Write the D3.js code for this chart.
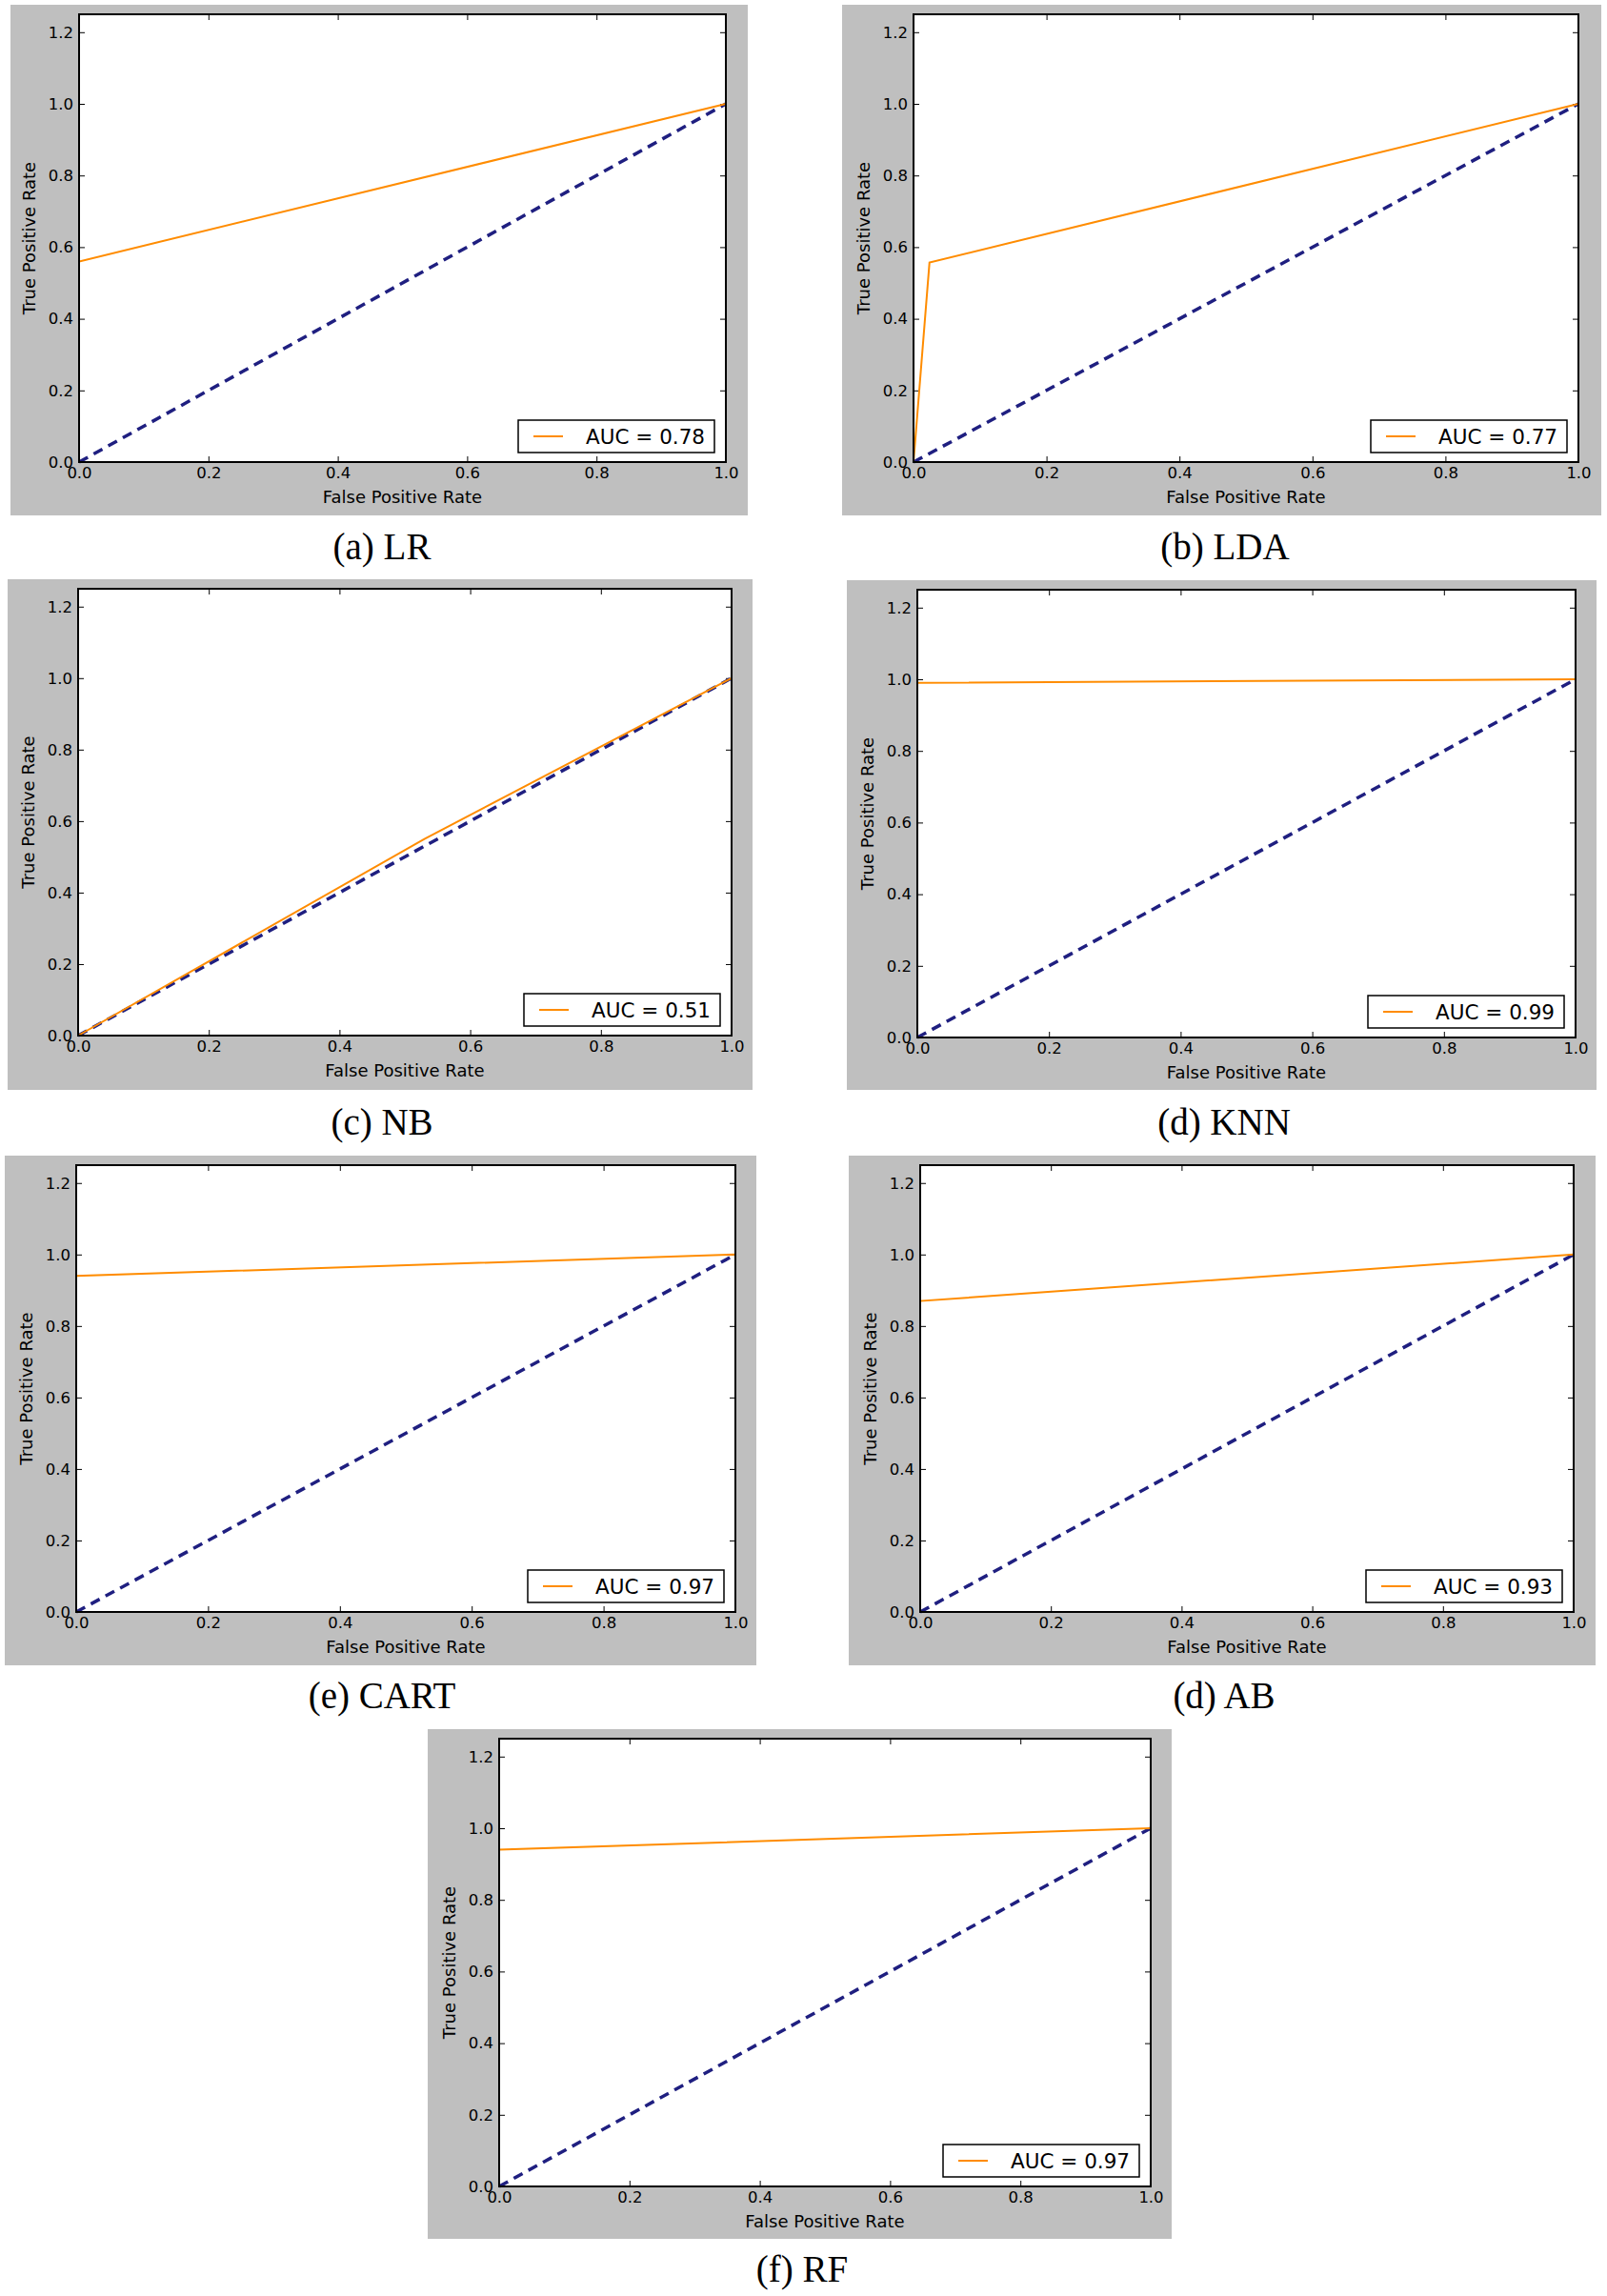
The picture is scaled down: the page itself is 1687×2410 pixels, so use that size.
<!DOCTYPE html>
<html lang="en">
<head>
    <meta charset="UTF-8">
    <title>ROC curves</title>
    <script src="https://d3js.org/d3.v7.min.js"></script>
    <style>
    body {
        margin: 0;
        background: #ffffff;
    }
    .tick text {
        font-family: "DejaVu Sans", sans-serif;
        font-size: 16.5px;
        fill: #000;
    }
    .tick line {
        stroke: #000;
        stroke-width: 1;
    }
    .axis-label {
        font-family: "DejaVu Sans", sans-serif;
        font-size: 18px;
        fill: #000;
    }
    .legend-text {
        font-family: "DejaVu Sans", sans-serif;
        font-size: 21.5px;
        fill: #000;
    }
    .caption {
        font-family: "Liberation Serif", "Times New Roman", serif;
        font-size: 39px;
        fill: #000;
    }
    </style>
</head>
<body>
    <script>
// chart data
const panelTitles = ["(a) LR", "(b) LDA", "(c) NB", "(d) KNN", "(e) CART", "(d) AB", "(f) RF"];
const aucLabels = ["AUC = 0.78", "AUC = 0.77", "AUC = 0.51", "AUC = 0.99", "AUC = 0.97", "AUC = 0.93", "AUC = 0.97"];
const fprValues = [
    [0, 0, 1],
    [0, 0.024, 1],
    [0, 0.53, 1],
    [0, 0, 1],
    [0, 0, 1],
    [0, 0, 1],
    [0, 0, 1]
];
const tprValues = [
    [0, 0.56, 1],
    [0, 0.557, 1],
    [0, 0.55, 1],
    [0, 0.99, 1],
    [0, 0.94, 1],
    [0, 0.87, 1],
    [0, 0.94, 1]
];
const chanceLine = [0, 1];
const xTicks = [0, 0.2, 0.4, 0.6, 0.8, 1.0];
const yTicks = [0, 0.2, 0.4, 0.6, 0.8, 1.0, 1.2];

// where each panel sits on the page
const layout = [
    {gx: 11,  gy: 5,    gw: 774, gh: 536, l: 83,  r: 762,  t: 15,   b: 485,  cx: 401,  cy: 587},
    {gx: 884, gy: 5,    gw: 797, gh: 536, l: 959, r: 1657, t: 15,   b: 485,  cx: 1286, cy: 587},
    {gx: 8,   gy: 608,  gw: 782, gh: 536, l: 82,  r: 768,  t: 618,  b: 1087, cx: 401,  cy: 1191},
    {gx: 889, gy: 609,  gw: 787, gh: 535, l: 963, r: 1654, t: 619,  b: 1089, cx: 1285, cy: 1191},
    {gx: 5,   gy: 1213, gw: 789, gh: 535, l: 80,  r: 772,  t: 1223, b: 1692, cx: 401,  cy: 1793},
    {gx: 891, gy: 1213, gw: 784, gh: 535, l: 966, r: 1652, t: 1223, b: 1692, cx: 1285, cy: 1793},
    {gx: 449, gy: 1815, gw: 781, gh: 535, l: 524, r: 1208, t: 1825, b: 2295, cx: 842,  cy: 2395}
];

const width = 1687;
const height = 2410;

const svg = d3.select("body")
    .append("svg")
    .attr("width", width)
    .attr("height", height);

layout.forEach((p, i) => {
    const g = svg.append("g");

    g.append("rect")
        .attr("x", p.gx)
        .attr("y", p.gy)
        .attr("width", p.gw)
        .attr("height", p.gh)
        .attr("fill", "#bfbfbf");

    g.append("rect")
        .attr("x", p.l)
        .attr("y", p.t)
        .attr("width", p.r - p.l)
        .attr("height", p.b - p.t)
        .attr("fill", "#fff");

    const x = d3.scaleLinear().domain([0, 1]).range([p.l, p.r]);
    const y = d3.scaleLinear().domain([0, 1.25]).range([p.b, p.t]);

    // ticks point inwards on all four sides
    const fmt = d3.format(".1f");
    const bottomAxis = g.append("g")
        .attr("transform", `translate(0,${p.b})`)
        .call(d3.axisBottom(x).tickValues(xTicks).tickFormat(fmt).tickSize(-6).tickPadding(5));
    const topAxis = g.append("g")
        .attr("transform", `translate(0,${p.t})`)
        .call(d3.axisTop(x).tickValues(xTicks).tickFormat("").tickSize(-6));
    const leftAxis = g.append("g")
        .attr("transform", `translate(${p.l},0)`)
        .call(d3.axisLeft(y).tickValues(yTicks).tickFormat(fmt).tickSize(-6).tickPadding(6));
    const rightAxis = g.append("g")
        .attr("transform", `translate(${p.r},0)`)
        .call(d3.axisRight(y).tickValues(yTicks).tickFormat("").tickSize(-6));
    [bottomAxis, topAxis, leftAxis, rightAxis].forEach(a => a.select(".domain").remove());

    const line = d3.line()
        .x(d => x(d[0]))
        .y(d => y(d[1]));

    const roc = d3.zip(fprValues[i], tprValues[i]);
    const chance = d3.zip(chanceLine, chanceLine);

    g.append("path")
        .datum(chance)
        .attr("d", line)
        .attr("fill", "none")
        .attr("stroke", "#1f1f80")
        .attr("stroke-width", 3.5)
        .attr("stroke-dasharray", "10.5,7");

    g.append("path")
        .datum(roc)
        .attr("d", line)
        .attr("fill", "none")
        .attr("stroke", "#ff8c00")
        .attr("stroke-width", 2);

    // frame
    g.append("rect")
        .attr("x", p.l)
        .attr("y", p.t)
        .attr("width", p.r - p.l)
        .attr("height", p.b - p.t)
        .attr("fill", "none")
        .attr("stroke", "#000")
        .attr("stroke-width", 2);

    // legend
    const lw = 206, lh = 34;
    const lx = p.r - 12 - lw;
    const ly = p.b - 10 - lh;
    g.append("rect")
        .attr("x", lx)
        .attr("y", ly)
        .attr("width", lw)
        .attr("height", lh)
        .attr("fill", "#fff")
        .attr("stroke", "#000")
        .attr("stroke-width", 1.5);
    g.append("line")
        .attr("x1", lx + 16)
        .attr("x2", lx + 47)
        .attr("y1", ly + lh / 2)
        .attr("y2", ly + lh / 2)
        .attr("stroke", "#ff8c00")
        .attr("stroke-width", 2);
    g.append("text")
        .attr("class", "legend-text")
        .attr("x", lx + 71)
        .attr("y", ly + lh / 2)
        .attr("dy", "0.36em")
        .text(aucLabels[i]);

    g.append("text")
        .attr("class", "axis-label")
        .attr("x", (p.l + p.r) / 2)
        .attr("y", p.b + 43)
        .attr("text-anchor", "middle")
        .text("False Positive Rate");

    g.append("text")
        .attr("class", "axis-label")
        .attr("transform", `translate(${p.l - 46},${(p.t + p.b) / 2}) rotate(-90)`)
        .attr("text-anchor", "middle")
        .text("True Positive Rate");

    g.append("text")
        .attr("class", "caption")
        .attr("x", p.cx)
        .attr("y", p.cy)
        .attr("text-anchor", "middle")
        .text(panelTitles[i]);
});
    </script>
</body>
</html>
